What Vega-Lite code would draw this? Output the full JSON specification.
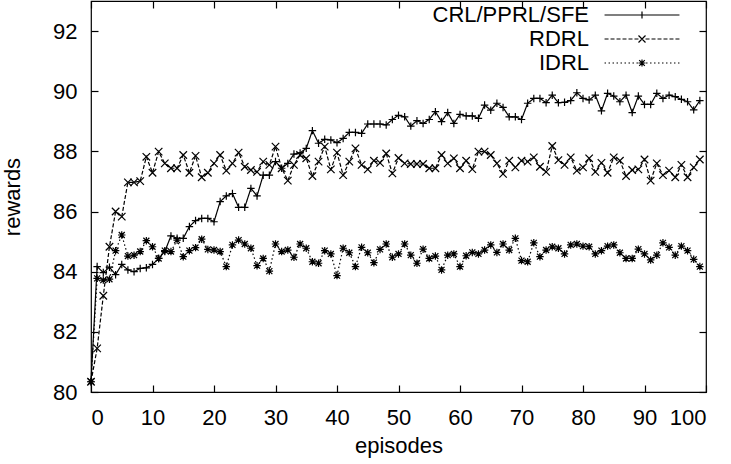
{
  "$schema": "https://vega.github.io/schema/vega-lite/v6.json",
  "width": 615,
  "height": 391,
  "autosize": {"type": "none"},
  "padding": {"left": 91, "top": 1, "right": 25, "bottom": 72},
  "config": {
    "font": "Liberation Sans",
    "view": {"stroke": "black", "strokeWidth": 1.2},
    "axis": {
      "grid": false,
      "domain": false,
      "tickColor": "black",
      "tickSize": -7,
      "tickWidth": 1.2,
      "labelColor": "black",
      "labelFontSize": 22,
      "titleColor": "black",
      "titleFontSize": 22,
      "titleFontWeight": "normal"
    }
  },
  "data": {
    "values": [
      {"ep": 0, "series": "CRL/PPRL/SFE", "reward": 80.34},
      {"ep": 1, "series": "CRL/PPRL/SFE", "reward": 84.17},
      {"ep": 2, "series": "CRL/PPRL/SFE", "reward": 83.97},
      {"ep": 3, "series": "CRL/PPRL/SFE", "reward": 84.15},
      {"ep": 4, "series": "CRL/PPRL/SFE", "reward": 83.9},
      {"ep": 5, "series": "CRL/PPRL/SFE", "reward": 84.24},
      {"ep": 6, "series": "CRL/PPRL/SFE", "reward": 84.06},
      {"ep": 7, "series": "CRL/PPRL/SFE", "reward": 84.0},
      {"ep": 8, "series": "CRL/PPRL/SFE", "reward": 84.11},
      {"ep": 9, "series": "CRL/PPRL/SFE", "reward": 84.13},
      {"ep": 10, "series": "CRL/PPRL/SFE", "reward": 84.24},
      {"ep": 11, "series": "CRL/PPRL/SFE", "reward": 84.44},
      {"ep": 12, "series": "CRL/PPRL/SFE", "reward": 84.67},
      {"ep": 13, "series": "CRL/PPRL/SFE", "reward": 85.19},
      {"ep": 14, "series": "CRL/PPRL/SFE", "reward": 85.11},
      {"ep": 15, "series": "CRL/PPRL/SFE", "reward": 85.11},
      {"ep": 16, "series": "CRL/PPRL/SFE", "reward": 85.5},
      {"ep": 17, "series": "CRL/PPRL/SFE", "reward": 85.7},
      {"ep": 18, "series": "CRL/PPRL/SFE", "reward": 85.77},
      {"ep": 19, "series": "CRL/PPRL/SFE", "reward": 85.77},
      {"ep": 20, "series": "CRL/PPRL/SFE", "reward": 85.66},
      {"ep": 21, "series": "CRL/PPRL/SFE", "reward": 86.33},
      {"ep": 22, "series": "CRL/PPRL/SFE", "reward": 86.52},
      {"ep": 23, "series": "CRL/PPRL/SFE", "reward": 86.6},
      {"ep": 24, "series": "CRL/PPRL/SFE", "reward": 86.14},
      {"ep": 25, "series": "CRL/PPRL/SFE", "reward": 86.14},
      {"ep": 26, "series": "CRL/PPRL/SFE", "reward": 86.77},
      {"ep": 27, "series": "CRL/PPRL/SFE", "reward": 86.52},
      {"ep": 28, "series": "CRL/PPRL/SFE", "reward": 87.21},
      {"ep": 29, "series": "CRL/PPRL/SFE", "reward": 87.21},
      {"ep": 30, "series": "CRL/PPRL/SFE", "reward": 87.66},
      {"ep": 31, "series": "CRL/PPRL/SFE", "reward": 87.44},
      {"ep": 32, "series": "CRL/PPRL/SFE", "reward": 87.6},
      {"ep": 33, "series": "CRL/PPRL/SFE", "reward": 87.91},
      {"ep": 34, "series": "CRL/PPRL/SFE", "reward": 87.95},
      {"ep": 35, "series": "CRL/PPRL/SFE", "reward": 88.1},
      {"ep": 36, "series": "CRL/PPRL/SFE", "reward": 88.69},
      {"ep": 37, "series": "CRL/PPRL/SFE", "reward": 88.27},
      {"ep": 38, "series": "CRL/PPRL/SFE", "reward": 88.4},
      {"ep": 39, "series": "CRL/PPRL/SFE", "reward": 88.38},
      {"ep": 40, "series": "CRL/PPRL/SFE", "reward": 88.29},
      {"ep": 41, "series": "CRL/PPRL/SFE", "reward": 88.43},
      {"ep": 42, "series": "CRL/PPRL/SFE", "reward": 88.63},
      {"ep": 43, "series": "CRL/PPRL/SFE", "reward": 88.63},
      {"ep": 44, "series": "CRL/PPRL/SFE", "reward": 88.6},
      {"ep": 45, "series": "CRL/PPRL/SFE", "reward": 88.91},
      {"ep": 46, "series": "CRL/PPRL/SFE", "reward": 88.91},
      {"ep": 47, "series": "CRL/PPRL/SFE", "reward": 88.91},
      {"ep": 48, "series": "CRL/PPRL/SFE", "reward": 88.88},
      {"ep": 49, "series": "CRL/PPRL/SFE", "reward": 89.06},
      {"ep": 50, "series": "CRL/PPRL/SFE", "reward": 89.2},
      {"ep": 51, "series": "CRL/PPRL/SFE", "reward": 89.15},
      {"ep": 52, "series": "CRL/PPRL/SFE", "reward": 88.84},
      {"ep": 53, "series": "CRL/PPRL/SFE", "reward": 89.02},
      {"ep": 54, "series": "CRL/PPRL/SFE", "reward": 88.93},
      {"ep": 55, "series": "CRL/PPRL/SFE", "reward": 89.06},
      {"ep": 56, "series": "CRL/PPRL/SFE", "reward": 89.32},
      {"ep": 57, "series": "CRL/PPRL/SFE", "reward": 88.99},
      {"ep": 58, "series": "CRL/PPRL/SFE", "reward": 89.29},
      {"ep": 59, "series": "CRL/PPRL/SFE", "reward": 88.93},
      {"ep": 60, "series": "CRL/PPRL/SFE", "reward": 89.23},
      {"ep": 61, "series": "CRL/PPRL/SFE", "reward": 89.18},
      {"ep": 62, "series": "CRL/PPRL/SFE", "reward": 89.18},
      {"ep": 63, "series": "CRL/PPRL/SFE", "reward": 89.1},
      {"ep": 64, "series": "CRL/PPRL/SFE", "reward": 89.54},
      {"ep": 65, "series": "CRL/PPRL/SFE", "reward": 89.37},
      {"ep": 66, "series": "CRL/PPRL/SFE", "reward": 89.6},
      {"ep": 67, "series": "CRL/PPRL/SFE", "reward": 89.46},
      {"ep": 68, "series": "CRL/PPRL/SFE", "reward": 89.15},
      {"ep": 69, "series": "CRL/PPRL/SFE", "reward": 89.15},
      {"ep": 70, "series": "CRL/PPRL/SFE", "reward": 89.06},
      {"ep": 71, "series": "CRL/PPRL/SFE", "reward": 89.6},
      {"ep": 72, "series": "CRL/PPRL/SFE", "reward": 89.76},
      {"ep": 73, "series": "CRL/PPRL/SFE", "reward": 89.76},
      {"ep": 74, "series": "CRL/PPRL/SFE", "reward": 89.62},
      {"ep": 75, "series": "CRL/PPRL/SFE", "reward": 89.87},
      {"ep": 76, "series": "CRL/PPRL/SFE", "reward": 89.62},
      {"ep": 77, "series": "CRL/PPRL/SFE", "reward": 89.63},
      {"ep": 78, "series": "CRL/PPRL/SFE", "reward": 89.69},
      {"ep": 79, "series": "CRL/PPRL/SFE", "reward": 89.95},
      {"ep": 80, "series": "CRL/PPRL/SFE", "reward": 89.76},
      {"ep": 81, "series": "CRL/PPRL/SFE", "reward": 89.71},
      {"ep": 82, "series": "CRL/PPRL/SFE", "reward": 89.87},
      {"ep": 83, "series": "CRL/PPRL/SFE", "reward": 89.35},
      {"ep": 84, "series": "CRL/PPRL/SFE", "reward": 89.93},
      {"ep": 85, "series": "CRL/PPRL/SFE", "reward": 89.84},
      {"ep": 86, "series": "CRL/PPRL/SFE", "reward": 89.65},
      {"ep": 87, "series": "CRL/PPRL/SFE", "reward": 89.87},
      {"ep": 88, "series": "CRL/PPRL/SFE", "reward": 89.29},
      {"ep": 89, "series": "CRL/PPRL/SFE", "reward": 89.84},
      {"ep": 90, "series": "CRL/PPRL/SFE", "reward": 89.56},
      {"ep": 91, "series": "CRL/PPRL/SFE", "reward": 89.56},
      {"ep": 92, "series": "CRL/PPRL/SFE", "reward": 89.93},
      {"ep": 93, "series": "CRL/PPRL/SFE", "reward": 89.76},
      {"ep": 94, "series": "CRL/PPRL/SFE", "reward": 89.87},
      {"ep": 95, "series": "CRL/PPRL/SFE", "reward": 89.82},
      {"ep": 96, "series": "CRL/PPRL/SFE", "reward": 89.73},
      {"ep": 97, "series": "CRL/PPRL/SFE", "reward": 89.65},
      {"ep": 98, "series": "CRL/PPRL/SFE", "reward": 89.38},
      {"ep": 99, "series": "CRL/PPRL/SFE", "reward": 89.69},
      {"ep": 0, "series": "RDRL", "reward": 80.34},
      {"ep": 1, "series": "RDRL", "reward": 81.45},
      {"ep": 2, "series": "RDRL", "reward": 83.2},
      {"ep": 3, "series": "RDRL", "reward": 84.83},
      {"ep": 4, "series": "RDRL", "reward": 86.0},
      {"ep": 5, "series": "RDRL", "reward": 85.83},
      {"ep": 6, "series": "RDRL", "reward": 86.97},
      {"ep": 7, "series": "RDRL", "reward": 86.97},
      {"ep": 8, "series": "RDRL", "reward": 87.01},
      {"ep": 9, "series": "RDRL", "reward": 87.82},
      {"ep": 10, "series": "RDRL", "reward": 87.29},
      {"ep": 11, "series": "RDRL", "reward": 87.99},
      {"ep": 12, "series": "RDRL", "reward": 87.6},
      {"ep": 13, "series": "RDRL", "reward": 87.44},
      {"ep": 14, "series": "RDRL", "reward": 87.44},
      {"ep": 15, "series": "RDRL", "reward": 87.88},
      {"ep": 16, "series": "RDRL", "reward": 87.29},
      {"ep": 17, "series": "RDRL", "reward": 87.85},
      {"ep": 18, "series": "RDRL", "reward": 87.14},
      {"ep": 19, "series": "RDRL", "reward": 87.29},
      {"ep": 20, "series": "RDRL", "reward": 87.6},
      {"ep": 21, "series": "RDRL", "reward": 87.88},
      {"ep": 22, "series": "RDRL", "reward": 87.36},
      {"ep": 23, "series": "RDRL", "reward": 87.6},
      {"ep": 24, "series": "RDRL", "reward": 87.96},
      {"ep": 25, "series": "RDRL", "reward": 87.49},
      {"ep": 26, "series": "RDRL", "reward": 87.38},
      {"ep": 27, "series": "RDRL", "reward": 87.32},
      {"ep": 28, "series": "RDRL", "reward": 87.66},
      {"ep": 29, "series": "RDRL", "reward": 87.55},
      {"ep": 30, "series": "RDRL", "reward": 88.16},
      {"ep": 31, "series": "RDRL", "reward": 87.44},
      {"ep": 32, "series": "RDRL", "reward": 87.03},
      {"ep": 33, "series": "RDRL", "reward": 87.55},
      {"ep": 34, "series": "RDRL", "reward": 87.88},
      {"ep": 35, "series": "RDRL", "reward": 87.77},
      {"ep": 36, "series": "RDRL", "reward": 87.18},
      {"ep": 37, "series": "RDRL", "reward": 87.66},
      {"ep": 38, "series": "RDRL", "reward": 88.16},
      {"ep": 39, "series": "RDRL", "reward": 87.4},
      {"ep": 40, "series": "RDRL", "reward": 87.96},
      {"ep": 41, "series": "RDRL", "reward": 87.21},
      {"ep": 42, "series": "RDRL", "reward": 87.66},
      {"ep": 43, "series": "RDRL", "reward": 88.1},
      {"ep": 44, "series": "RDRL", "reward": 87.55},
      {"ep": 45, "series": "RDRL", "reward": 87.4},
      {"ep": 46, "series": "RDRL", "reward": 87.69},
      {"ep": 47, "series": "RDRL", "reward": 87.62},
      {"ep": 48, "series": "RDRL", "reward": 87.93},
      {"ep": 49, "series": "RDRL", "reward": 87.27},
      {"ep": 50, "series": "RDRL", "reward": 87.78},
      {"ep": 51, "series": "RDRL", "reward": 87.6},
      {"ep": 52, "series": "RDRL", "reward": 87.58},
      {"ep": 53, "series": "RDRL", "reward": 87.58},
      {"ep": 54, "series": "RDRL", "reward": 87.58},
      {"ep": 55, "series": "RDRL", "reward": 87.44},
      {"ep": 56, "series": "RDRL", "reward": 87.44},
      {"ep": 57, "series": "RDRL", "reward": 87.88},
      {"ep": 58, "series": "RDRL", "reward": 87.6},
      {"ep": 59, "series": "RDRL", "reward": 87.77},
      {"ep": 60, "series": "RDRL", "reward": 87.44},
      {"ep": 61, "series": "RDRL", "reward": 87.69},
      {"ep": 62, "series": "RDRL", "reward": 87.41},
      {"ep": 63, "series": "RDRL", "reward": 87.99},
      {"ep": 64, "series": "RDRL", "reward": 87.99},
      {"ep": 65, "series": "RDRL", "reward": 87.88},
      {"ep": 66, "series": "RDRL", "reward": 87.6},
      {"ep": 67, "series": "RDRL", "reward": 87.25},
      {"ep": 68, "series": "RDRL", "reward": 87.69},
      {"ep": 69, "series": "RDRL", "reward": 87.47},
      {"ep": 70, "series": "RDRL", "reward": 87.69},
      {"ep": 71, "series": "RDRL", "reward": 87.66},
      {"ep": 72, "series": "RDRL", "reward": 87.8},
      {"ep": 73, "series": "RDRL", "reward": 87.49},
      {"ep": 74, "series": "RDRL", "reward": 87.32},
      {"ep": 75, "series": "RDRL", "reward": 88.18},
      {"ep": 76, "series": "RDRL", "reward": 87.71},
      {"ep": 77, "series": "RDRL", "reward": 87.55},
      {"ep": 78, "series": "RDRL", "reward": 87.8},
      {"ep": 79, "series": "RDRL", "reward": 87.36},
      {"ep": 80, "series": "RDRL", "reward": 87.47},
      {"ep": 81, "series": "RDRL", "reward": 87.77},
      {"ep": 82, "series": "RDRL", "reward": 87.32},
      {"ep": 83, "series": "RDRL", "reward": 87.62},
      {"ep": 84, "series": "RDRL", "reward": 87.29},
      {"ep": 85, "series": "RDRL", "reward": 87.8},
      {"ep": 86, "series": "RDRL", "reward": 87.69},
      {"ep": 87, "series": "RDRL", "reward": 87.18},
      {"ep": 88, "series": "RDRL", "reward": 87.38},
      {"ep": 89, "series": "RDRL", "reward": 87.4},
      {"ep": 90, "series": "RDRL", "reward": 87.73},
      {"ep": 91, "series": "RDRL", "reward": 87.03},
      {"ep": 92, "series": "RDRL", "reward": 87.6},
      {"ep": 93, "series": "RDRL", "reward": 87.21},
      {"ep": 94, "series": "RDRL", "reward": 87.36},
      {"ep": 95, "series": "RDRL", "reward": 87.14},
      {"ep": 96, "series": "RDRL", "reward": 87.55},
      {"ep": 97, "series": "RDRL", "reward": 87.14},
      {"ep": 98, "series": "RDRL", "reward": 87.47},
      {"ep": 99, "series": "RDRL", "reward": 87.73},
      {"ep": 0, "series": "IDRL", "reward": 80.34},
      {"ep": 1, "series": "IDRL", "reward": 83.78},
      {"ep": 2, "series": "IDRL", "reward": 83.72},
      {"ep": 3, "series": "IDRL", "reward": 83.75},
      {"ep": 4, "series": "IDRL", "reward": 84.7},
      {"ep": 5, "series": "IDRL", "reward": 85.22},
      {"ep": 6, "series": "IDRL", "reward": 84.52},
      {"ep": 7, "series": "IDRL", "reward": 84.55},
      {"ep": 8, "series": "IDRL", "reward": 84.67},
      {"ep": 9, "series": "IDRL", "reward": 85.03},
      {"ep": 10, "series": "IDRL", "reward": 84.83},
      {"ep": 11, "series": "IDRL", "reward": 84.44},
      {"ep": 12, "series": "IDRL", "reward": 84.7},
      {"ep": 13, "series": "IDRL", "reward": 84.67},
      {"ep": 14, "series": "IDRL", "reward": 85.05},
      {"ep": 15, "series": "IDRL", "reward": 84.5},
      {"ep": 16, "series": "IDRL", "reward": 84.7},
      {"ep": 17, "series": "IDRL", "reward": 84.8},
      {"ep": 18, "series": "IDRL", "reward": 85.08},
      {"ep": 19, "series": "IDRL", "reward": 84.74},
      {"ep": 20, "series": "IDRL", "reward": 84.72},
      {"ep": 21, "series": "IDRL", "reward": 84.67},
      {"ep": 22, "series": "IDRL", "reward": 84.17},
      {"ep": 23, "series": "IDRL", "reward": 84.89},
      {"ep": 24, "series": "IDRL", "reward": 85.05},
      {"ep": 25, "series": "IDRL", "reward": 84.92},
      {"ep": 26, "series": "IDRL", "reward": 84.78},
      {"ep": 27, "series": "IDRL", "reward": 84.2},
      {"ep": 28, "series": "IDRL", "reward": 84.44},
      {"ep": 29, "series": "IDRL", "reward": 84.02},
      {"ep": 30, "series": "IDRL", "reward": 84.92},
      {"ep": 31, "series": "IDRL", "reward": 84.67},
      {"ep": 32, "series": "IDRL", "reward": 84.72},
      {"ep": 33, "series": "IDRL", "reward": 84.48},
      {"ep": 34, "series": "IDRL", "reward": 84.92},
      {"ep": 35, "series": "IDRL", "reward": 84.78},
      {"ep": 36, "series": "IDRL", "reward": 84.33},
      {"ep": 37, "series": "IDRL", "reward": 84.28},
      {"ep": 38, "series": "IDRL", "reward": 84.7},
      {"ep": 39, "series": "IDRL", "reward": 84.59},
      {"ep": 40, "series": "IDRL", "reward": 83.87},
      {"ep": 41, "series": "IDRL", "reward": 84.78},
      {"ep": 42, "series": "IDRL", "reward": 84.63},
      {"ep": 43, "series": "IDRL", "reward": 84.17},
      {"ep": 44, "series": "IDRL", "reward": 84.81},
      {"ep": 45, "series": "IDRL", "reward": 84.63},
      {"ep": 46, "series": "IDRL", "reward": 84.3},
      {"ep": 47, "series": "IDRL", "reward": 84.74},
      {"ep": 48, "series": "IDRL", "reward": 84.92},
      {"ep": 49, "series": "IDRL", "reward": 84.48},
      {"ep": 50, "series": "IDRL", "reward": 84.59},
      {"ep": 51, "series": "IDRL", "reward": 84.92},
      {"ep": 52, "series": "IDRL", "reward": 84.55},
      {"ep": 53, "series": "IDRL", "reward": 84.28},
      {"ep": 54, "series": "IDRL", "reward": 84.75},
      {"ep": 55, "series": "IDRL", "reward": 84.44},
      {"ep": 56, "series": "IDRL", "reward": 84.52},
      {"ep": 57, "series": "IDRL", "reward": 84.06},
      {"ep": 58, "series": "IDRL", "reward": 84.55},
      {"ep": 59, "series": "IDRL", "reward": 84.59},
      {"ep": 60, "series": "IDRL", "reward": 84.17},
      {"ep": 61, "series": "IDRL", "reward": 84.53},
      {"ep": 62, "series": "IDRL", "reward": 84.64},
      {"ep": 63, "series": "IDRL", "reward": 84.59},
      {"ep": 64, "series": "IDRL", "reward": 84.72},
      {"ep": 65, "series": "IDRL", "reward": 84.89},
      {"ep": 66, "series": "IDRL", "reward": 84.64},
      {"ep": 67, "series": "IDRL", "reward": 84.92},
      {"ep": 68, "series": "IDRL", "reward": 84.72},
      {"ep": 69, "series": "IDRL", "reward": 85.11},
      {"ep": 70, "series": "IDRL", "reward": 84.37},
      {"ep": 71, "series": "IDRL", "reward": 84.33},
      {"ep": 72, "series": "IDRL", "reward": 84.96},
      {"ep": 73, "series": "IDRL", "reward": 84.5},
      {"ep": 74, "series": "IDRL", "reward": 84.72},
      {"ep": 75, "series": "IDRL", "reward": 84.83},
      {"ep": 76, "series": "IDRL", "reward": 84.78},
      {"ep": 77, "series": "IDRL", "reward": 84.59},
      {"ep": 78, "series": "IDRL", "reward": 84.89},
      {"ep": 79, "series": "IDRL", "reward": 84.92},
      {"ep": 80, "series": "IDRL", "reward": 84.85},
      {"ep": 81, "series": "IDRL", "reward": 84.83},
      {"ep": 82, "series": "IDRL", "reward": 84.59},
      {"ep": 83, "series": "IDRL", "reward": 84.7},
      {"ep": 84, "series": "IDRL", "reward": 84.85},
      {"ep": 85, "series": "IDRL", "reward": 84.89},
      {"ep": 86, "series": "IDRL", "reward": 84.63},
      {"ep": 87, "series": "IDRL", "reward": 84.44},
      {"ep": 88, "series": "IDRL", "reward": 84.44},
      {"ep": 89, "series": "IDRL", "reward": 84.75},
      {"ep": 90, "series": "IDRL", "reward": 84.59},
      {"ep": 91, "series": "IDRL", "reward": 84.39},
      {"ep": 92, "series": "IDRL", "reward": 84.55},
      {"ep": 93, "series": "IDRL", "reward": 84.96},
      {"ep": 94, "series": "IDRL", "reward": 84.81},
      {"ep": 95, "series": "IDRL", "reward": 84.55},
      {"ep": 96, "series": "IDRL", "reward": 84.85},
      {"ep": 97, "series": "IDRL", "reward": 84.7},
      {"ep": 98, "series": "IDRL", "reward": 84.41},
      {"ep": 99, "series": "IDRL", "reward": 84.17}
    ]
  },
  "encoding": {
    "x": {"field": "ep", "type": "quantitative", "scale": {"domain": [0, 100], "nice": false}},
    "y": {"field": "reward", "type": "quantitative", "scale": {"domain": [80, 93], "nice": false}}
  },
  "layer": [
    {
      "mark": {"type": "line", "color": "black", "strokeWidth": 1.2},
      "encoding": {
        "x": {"field": "ep", "type": "quantitative", "axis": {"title": "episodes", "values": [0, 10, 20, 30, 40, 50, 60, 70, 80, 90, 100], "labelPadding": 22, "titlePadding": 7}},
        "y": {"field": "reward", "type": "quantitative", "axis": {"title": "rewards", "values": [80, 82, 84, 86, 88, 90, 92], "labelPadding": 21, "titlePadding": 28}},
        "strokeDash": {
          "field": "series", "type": "nominal",
          "scale": {"domain": ["CRL/PPRL/SFE", "IDRL", "RDRL"], "range": [[1, 0], [1.5, 2.5], [4, 2]]},
          "legend": null
        }
      }
    },
    {
      "mark": {"type": "point", "filled": false, "color": "black", "strokeWidth": 1.2, "size": 56, "opacity": 1},
      "encoding": {
        "x": {"field": "ep", "type": "quantitative", "axis": {"orient": "top", "title": null, "labels": false, "values": [0, 10, 20, 30, 40, 50, 60, 70, 80, 90, 100]}},
        "y": {"field": "reward", "type": "quantitative", "axis": {"orient": "right", "title": null, "labels": false, "values": [80, 82, 84, 86, 88, 90, 92]}},
        "shape": {
          "field": "series", "type": "nominal",
          "scale": {
            "domain": ["IDRL", "CRL/PPRL/SFE", "RDRL"],
            "range": [
              "M-1,0L1,0M0,-1L0,1M-0.8,-0.8L0.8,0.8M-0.8,0.8L0.8,-0.8",
              "M-1,0L1,0M0,-1L0,1",
              "M-1,-1L1,1M-1,1L1,-1"
            ]
          },
          "legend": null
        }
      }
    },
    {
      "mark": {"type": "point", "filled": false, "color": "black", "strokeWidth": 1.2, "size": 49, "opacity": 0},
      "encoding": {
        "x": {"field": "ep", "type": "quantitative", "axis": null},
        "y": {"field": "reward", "type": "quantitative", "axis": null},
        "shape": {
          "field": "series", "type": "nominal",
          "scale": {
            "domain": ["CRL/PPRL/SFE", "RDRL", "IDRL"],
            "range": [
              "M-10.7,0H10.7M0,-1V1",
              "M-10.7,0H-9.56M-8.99,0H-7.85M-7.28,0H-6.14M-5.57,0H-4.43M-3.86,0H-2.72M-2.15,0H-1.01M1.01,0H2.15M2.72,0H3.86M4.43,0H5.57M6.14,0H7.28M7.85,0H8.99M9.56,0H10.7M-1,-1L1,1M-1,1L1,-1",
              "M-10.7,0H-10.27M-9.56,0H-9.13M-8.42,0H-7.99M-7.28,0H-6.85M-6.14,0H-5.71M-5,0H-4.57M-3.86,0H-3.43M-2.72,0H-2.29M-1.58,0H-1.15M1.15,0H1.58M2.29,0H2.72M3.43,0H3.86M4.57,0H5M5.71,0H6.14M6.85,0H7.28M7.99,0H8.42M9.13,0H9.56M10.27,0H10.7M-1,0H1M0,-1V1M-0.8,-0.8L0.8,0.8M-0.8,0.8L0.8,-0.8"
            ]
          },
          "legend": {
            "orient": "none",
            "legendX": 540,
            "legendY": 3,
            "title": null,
            "padding": 0,
            "rowPadding": 2,
            "labelFont": "Liberation Sans",
            "labelFontSize": 22,
            "labelColor": "black",
            "labelAlign": "right",
            "labelOffset": -64,
            "labelLimit": 400,
            "symbolSize": 49,
            "symbolStrokeColor": "black",
            "symbolStrokeWidth": 1.2,
            "symbolOpacity": 1
          }
        }
      }
    }
  ],
  "resolve": {
    "axis": {"x": "independent", "y": "independent"},
    "scale": {"shape": "independent"}
  }
}
